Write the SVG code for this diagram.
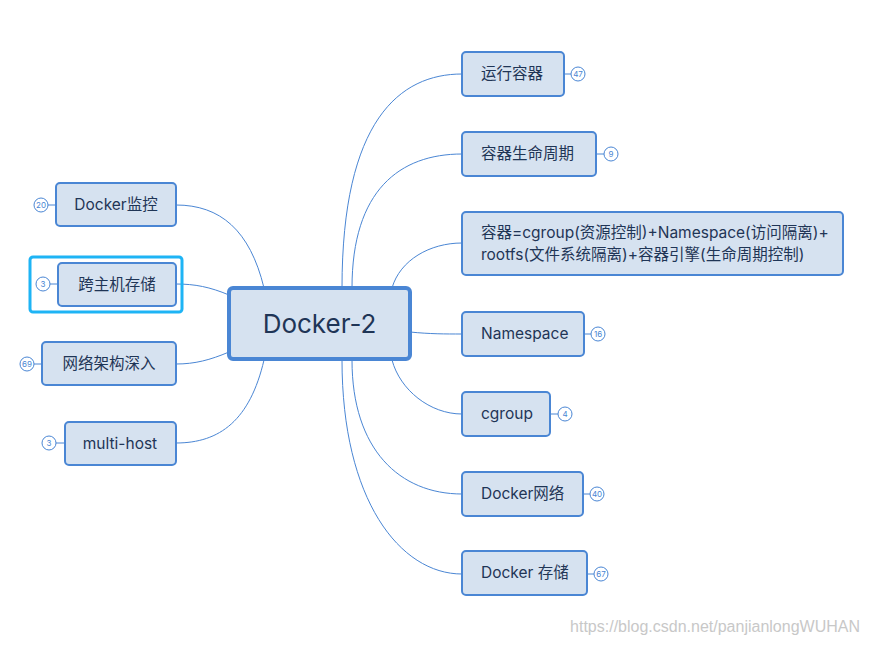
<svg xmlns="http://www.w3.org/2000/svg" width="869" height="645" viewBox="0 0 869 645">
<style>
.n{fill:#d6e2f0;stroke:#4a86d4;stroke-width:2}
.t{font-family:Inter,"Noto Sans CJK SC",sans-serif;font-size:15.5px;fill:#1f3556}
.b{fill:#fff;stroke:#4a86d4;stroke-width:1}
.bt{font-family:Inter,sans-serif;font-size:8px;fill:#4a86d4;text-anchor:middle}
.c{fill:none;stroke:#4a86d4;stroke-width:1}
</style>
<rect width="869" height="645" fill="#fff"/>
<g id="connectors" class="c">
<path d="M342,288 C342,120 400,74 462,74"/>
<path d="M352,288 C352,190 400,154 462,154"/>
<path d="M392,288 C400,260 430,243 462,243"/>
<path d="M410,332 C430,334 445,334 462,334"/>
<path d="M392,360 C400,390 430,414 462,414"/>
<path d="M352,360 C352,450 400,494 462,494"/>
<path d="M342,360 C342,500 400,574 462,574"/>
<path d="M264,288 C250,230 220,205 176,205"/>
<path d="M229,295 C210,287 195,284 176,284"/>
<path d="M229,352 C210,360 195,364 176,364"/>
<path d="M264,360 C250,420 220,443 176,443"/>
<path d="M564,74 H571 M596,154 H604 M584,334 H591 M550,414 H558 M583,494 H590 M587,574 H594 M48,205 H56 M50,284 H58 M34,364 H42 M56,443 H65"/>
</g>
<g id="center"><rect x="229" y="288" width="181" height="71" rx="4" fill="#d6e2f0" stroke="#4a86d4" stroke-width="4"/><text x="319.5" y="333" text-anchor="middle" font-family="Inter,sans-serif" font-size="26" fill="#1f3556">Docker-2</text></g>
<g id="n1"><rect class="n" x="462" y="52" width="102" height="44" rx="4"/><text class="t" x="481" y="79">运行容器</text><circle class="b" cx="578" cy="74" r="7"/><text class="bt" x="578" y="77">47</text></g>
<g id="n2"><rect class="n" x="462" y="132" width="134" height="44" rx="4"/><text class="t" x="481" y="159">容器生命周期</text><circle class="b" cx="611" cy="154" r="7"/><text class="bt" x="611" y="157">9</text></g>
<g id="n3"><rect class="n" x="462" y="212" width="381" height="63" rx="4"/><text class="t" x="481" y="238">容器=cgroup(资源控制)+Namespace(访问隔离)+</text><text class="t" x="481" y="260">rootfs(文件系统隔离)+容器引擎(生命周期控制)</text></g>
<g id="n4"><rect class="n" x="462" y="312" width="122" height="44" rx="4"/><text class="t" x="481" y="339">Namespace</text><circle class="b" cx="598" cy="334" r="7"/><text class="bt" x="598" y="337">16</text></g>
<g id="n5"><rect class="n" x="462" y="392" width="88" height="44" rx="4"/><text class="t" x="481" y="419">cgroup</text><circle class="b" cx="565" cy="414" r="7"/><text class="bt" x="565" y="417">4</text></g>
<g id="n6"><rect class="n" x="462" y="472" width="121" height="44" rx="4"/><text class="t" x="481" y="499">Docker网络</text><circle class="b" cx="597" cy="494" r="7"/><text class="bt" x="597" y="497">40</text></g>
<g id="n7"><rect class="n" x="462" y="551" width="125" height="44" rx="4"/><text class="t" x="481" y="578">Docker 存储</text><circle class="b" cx="601" cy="574" r="7"/><text class="bt" x="601" y="577">67</text></g>
<g id="l1"><rect class="n" x="56" y="183" width="120" height="43" rx="4"/><text class="t" x="116" y="210" text-anchor="middle">Docker监控</text><circle class="b" cx="41" cy="205" r="7"/><text class="bt" x="41" y="208">20</text></g>
<g id="l2"><rect x="30" y="257" width="152" height="55" rx="3" fill="none" stroke="#1eb4f5" stroke-width="3"/><rect class="n" x="58" y="263" width="118" height="43" rx="4"/><text class="t" x="117" y="290" text-anchor="middle">跨主机存储</text><circle class="b" cx="43" cy="284" r="7"/><text class="bt" x="43" y="287">3</text></g>
<g id="l3"><rect class="n" x="42" y="342" width="134" height="43" rx="4"/><text class="t" x="109" y="369" text-anchor="middle">网络架构深入</text><circle class="b" cx="27" cy="364" r="7"/><text class="bt" x="27" y="367">69</text></g>
<g id="l4"><rect class="n" x="65" y="422" width="111" height="43" rx="4"/><text class="t" x="120" y="449" text-anchor="middle">multi-host</text><circle class="b" cx="49" cy="443" r="7"/><text class="bt" x="49" y="446">3</text></g>
<text x="860" y="632" text-anchor="end" font-family="Liberation Sans,sans-serif" font-size="16" fill="#c8c8c8">https://blog.csdn.net/panjianlongWUHAN</text>
</svg>
